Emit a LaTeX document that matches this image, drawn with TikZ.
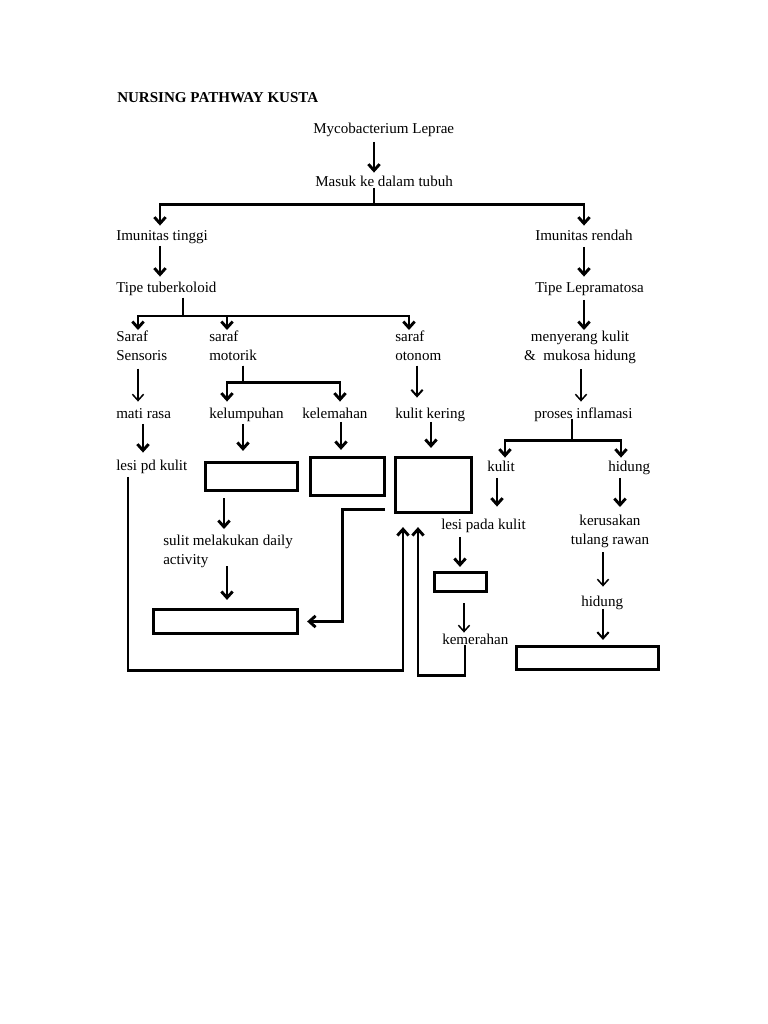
\documentclass[tikz,border=0pt]{standalone}
\usepackage{fontspec}
\setmainfont{Liberation Serif}
\usetikzlibrary{arrows.meta}
\usetikzlibrary{calc,positioning}

\begin{document}
\begin{tikzpicture}[x=0.797pt, y=-0.797pt, >={Straight Barb[length=5pt,width=9pt]},
    teks/.style={anchor=base west, inner sep=0pt, font=\fontsize{12}{15}\selectfont, execute at begin node=\strut},
    teksb/.style={teks, anchor=north west, align=left, execute at end node=\strut},
    kotak/.style={draw, line width=2.2pt, inner sep=0pt},
    panah/.style={->, line width=2.3pt},
    panahsedang/.style={->, line width=1.6pt},
    panahtipis/.style={->, line width=1.2pt}]

    \useasboundingbox (0,0) rectangle (768,1024);

    \node[teks, font=\fontsize{12}{15}\selectfont\bfseries] (judul) at (117,102) {NURSING PATHWAY KUSTA};

    \node[teks] (myco) at (313,133) {Mycobacterium Leprae};
    \node[teks] (masuk) at (315,186) {Masuk ke dalam tubuh};
    \node[teks] (tinggi) at (116,240) {Imunitas tinggi};
    \node[teks] (rendah) at (535,240) {Imunitas rendah};
    \node[teks] (tuber) at (116,292) {Tipe tuberkoloid};
    \node[teks] (lepra) at (535,292) {Tipe Lepramatosa};
    \node[teksb] (sensoris) at (116,331) {Saraf\\Sensoris};
    \node[teksb] (motorik) at (209,331) {saraf\\motorik};
    \node[teksb] (otonom) at (395,331) {saraf\\otonom};
    \node[teksb, anchor=north, align=center] (serang) at (580,331) {menyerang kulit\\\&~ mukosa hidung};
    \node[teks] (mati) at (116,418) {mati rasa};
    \node[teks] (lumpuh) at (209,418) {kelumpuhan};
    \node[teks] (lemah) at (302,418) {kelemahan};
    \node[teks] (kering) at (395,418) {kulit kering};
    \node[teks] (radang) at (534,418) {proses inflamasi};
    \node[teks] (lesipd) at (116,470) {lesi pd kulit};
    \node[teks] (kulit) at (487,471) {kulit};
    \node[teks] (hidung) at (608,471) {hidung};
    \node[teksb] (sulit) at (163,535) {sulit melakukan daily\\activity};
    \node[teks] (lesipada) at (441,529) {lesi pada kulit};
    \node[teksb, anchor=north, align=center] (rusak) at (610,515) {kerusakan\\tulang rawan};
    \node[teks] (hidungb) at (581,606) {hidung};
    \node[teks] (merah) at (442,644) {kemerahan};

    % kotak kosong
    \node[kotak, minimum width=73.7pt, minimum height=22.7pt] (box1) at (251.5,476.5) {};
    \node[kotak, minimum width=59.4pt, minimum height=30.7pt] (box2) at (347.5,476.5) {};
    \node[kotak, minimum width=61pt, minimum height=44.2pt] (box3) at (433.5,485) {};
    \node[kotak, minimum width=115.2pt, minimum height=19.5pt] (box4) at (225.5,621.5) {};
    \node[kotak, minimum width=41.8pt, minimum height=15.5pt] (box5) at (460.5,582) {};
    \node[kotak, minimum width=113.6pt, minimum height=18.7pt] (box6) at (587.5,658) {};

    \draw[panah] ($(myco.south west)+(61,3)$) -- ($(masuk.north west)+(59,0)$);
    \draw[panah] ($(masuk.south west)+(59,-4)$) |- ($(tinggi.north west)+(44,-22)$) -- ($(tinggi.north west)+(44,-1)$);
    \draw[panah] ($(masuk.south west)+(59,-4)$) |- ($(rendah.north west)+(49,-22)$) -- ($(rendah.north west)+(49,-1)$);
    \draw[panah] ($(tinggi.south west)+(44,0)$) -- ($(tuber.north west)+(44,-2)$);
    \draw[panah] ($(rendah.south west)+(49,1)$) -- ($(lepra.north west)+(49,-2)$);

    \draw[panah] ($(tuber.south west)+(67,0)$) |- ($(sensoris.north west)+(22,-15)$) -- ($(sensoris.north west)+(22,-1)$);
    \draw[panah] ($(tuber.south west)+(67,0)$) |- ($(motorik.north west)+(18,-15)$) -- ($(motorik.north west)+(18,-1)$);
    \draw[panah] ($(tuber.south west)+(67,0)$) |- ($(otonom.north west)+(14,-15)$) -- ($(otonom.north west)+(14,-1)$);
    \draw[panah] ($(lepra.south west)+(49,2)$) -- ($(serang.north)+(4,-1)$);

    \draw[panahtipis] ($(sensoris.south west)+(22,2)$) -- ($(mati.north west)+(22,-3)$);
    \draw[panah] ($(motorik.south west)+(34,-1)$) |- ($(lumpuh.north west)+(18,-22)$) -- ($(lumpuh.north west)+(18,-3)$);
    \draw[panah] ($(motorik.south west)+(34,-1)$) |- ($(lemah.north west)+(38,-22)$) -- ($(lemah.north west)+(38,-3)$);
    \draw[panahsedang] ($(otonom.south west)+(22,-1)$) -- ($(kering.north west)+(22,-7)$);
    \draw[panahtipis] ($(serang.south)+(1,3)$) -- ($(radang.north west)+(47,-3)$);

    \draw[panah] ($(mati.south west)+(27,0)$) -- ($(lesipd.north west)+(27,-4)$);
    \draw[panah] ($(lumpuh.south west)+(34,0)$) -- ($(box1.north)+(-8.5,-10)$);
    \draw[panah] ($(lemah.south west)+(39,-2)$) -- ($(box2.north)+(-6.5,-6)$);
    \draw[panah] ($(kering.south west)+(36,-2)$) -- ($(box3.north)+(-2.5,-8)$);
    \draw[panah] ($(radang.south west)+(38,-5)$) |- ($(kulit.north west)+(18,-17)$) -- ($(kulit.north west)+(18,0)$);
    \draw[panah] ($(radang.south west)+(38,-5)$) |- ($(hidung.north west)+(13,-17)$) -- ($(hidung.north west)+(13,0)$);

    \draw[panah] ($(kulit.south west)+(10,1)$) -- ($(lesipada.north west)+(56,-9)$);
    \draw[panah] ($(hidung.south west)+(12,1)$) -- ($(rusak.north)+(10,-8)$);
    \draw[panah] ($(box1.south)+(-27.5,6)$) -- ($(sulit.north west)+(61,-6)$);
    \draw[panah] ($(sulit.south west)+(64,-4)$) -- ($(box4.north)+(1.5,-8)$);
    \draw[panah] ($(lesipada.south west)+(19,2)$) -- ($(box5.north)+(-0.5,-4)$);
    \draw[panahtipis] ($(box5.south)+(3.5,10)$) -- ($(merah.north west)+(22,2)$);
    \draw[panahtipis] ($(rusak.south)+(-7,2)$) -- ($(hidungb.north west)+(22,-6)$);
    \draw[panahsedang] ($(hidungb.south west)+(22,-3)$) -- ($(box6.north)+(15.5,-5)$);

    % balik ke kotak
    \draw[panah] ($(lesipd.south west)+(12,1)$) |- ($(box3.south)+(-30.5,156)$) -- ($(box3.south)+(-30.5,13)$);
    \draw[panah] ($(merah.south west)+(23,-5)$) |- ($(box3.south)+(-15.5,161)$) -- ($(box3.south)+(-15.5,13)$);
    \draw[panah] ($(box2.south east)+(-1,12)$) -| ($(box4.east)+(43,0)$) -- ($(box4.east)+(8,0)$);

\end{tikzpicture}
\end{document}
